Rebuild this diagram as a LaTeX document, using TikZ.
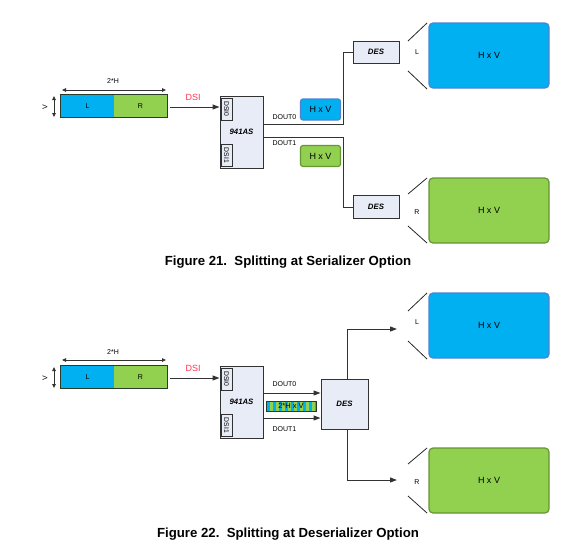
\documentclass[tikz,border=0pt]{standalone}
\usepackage{fontspec}
\setmainfont{Liberation Sans}
\usetikzlibrary{arrows.meta,calc}
\definecolor{cyanL}{RGB}{0,176,240}
\definecolor{greenR}{RGB}{146,208,80}
\definecolor{boxfill}{RGB}{231,236,247}
\definecolor{edge}{RGB}{50,50,50}
\definecolor{dsired}{RGB}{255,50,80}
\definecolor{blueedge}{RGB}{80,130,210}
\definecolor{greenedge}{RGB}{100,150,50}
\definecolor{baredge}{RGB}{40,60,40}
\begin{document}
\begin{tikzpicture}[x=1pt,y=-1pt,
  lbl/.style={font=\fontsize{7}{8}\selectfont, inner sep=0pt},
  barbox/.style={minimum width=53pt, minimum height=22pt, inner sep=0pt, font=\fontsize{7}{8}\selectfont},
  chipbox/.style={draw=edge, fill=boxfill, line width=1pt, inner sep=0pt, font=\fontsize{7.8}{8}\selectfont\bfseries\itshape},
  dsibox/.style={draw=edge, fill=boxfill, line width=1pt, inner sep=0pt, rotate=-90, minimum width=22pt, minimum height=11pt, font=\fontsize{6.8}{7}\selectfont},
  smallpic/.style={rounded corners=2.5pt, line width=1.2pt, minimum width=40pt, minimum height=21pt, inner sep=0pt, font=\fontsize{9}{10}\selectfont},
  bigpic/.style={rounded corners=4pt, line width=1.2pt, minimum width=120pt, minimum height=65pt, inner sep=0pt, font=\fontsize{9}{10}\selectfont},
  wire/.style={draw=edge, line width=1pt},
  arr/.style={wire, -{Triangle[length=7pt,width=5pt]}},
  dim/.style={draw=edge, line width=0.8pt, {Triangle[length=4pt,width=3.5pt]}-{Triangle[length=4pt,width=3.5pt]}},
  fan/.style={draw=black!85, line width=0.8pt},
  dsilbl/.style={text=dsired, inner sep=0pt, font=\fontsize{9}{10}\selectfont},
  caption/.style={inner sep=0pt, font=\fontsize{13.2}{15}\selectfont\bfseries},
  stripe/.style={draw=baredge, line width=0.8pt, minimum width=50pt, minimum height=10pt, inner sep=0pt,
    font=\fontsize{7.5}{8}\selectfont,
    path picture={\fill[greenR] (path picture bounding box.south west) rectangle (path picture bounding box.north east);
      \foreach \i in {0,...,8}{\fill[cyanL] ($(path picture bounding box.south west)+(1+\i*6,0)$) rectangle ++(3,-12);}}}
]
\useasboundingbox (0,0) rectangle (561,546);

% ================= Figure 21 =================
\node[barbox, fill=cyanL] (L1) at (87.5,106) {L};
\node[barbox, fill=greenR] (R1) at (140.5,106) {R};
\draw[baredge, line width=1pt] (L1.north west) rectangle (R1.south east);
\coordinate (h1a) at (62,90); \coordinate (h1b) at (166,90);
\draw[dim] (h1a) -- (h1b);
\node[lbl] (h1t) at (113,81) {2*H};
\coordinate (v1a) at (54,96); \coordinate (v1b) at (54,117);
\draw[dim] (v1a) -- (v1b);
\node[lbl, rotate=90] (v1t) at (45,107) {V};

\node[chipbox, minimum width=43pt, minimum height=72pt] (as1) at (241.5,132) {941AS};
\node[dsibox] (d10) at (226.5,109) {DSI0};
\node[dsibox] (d11) at (226.5,155.5) {DSI1};
\coordinate (s1) at (170,107);
\draw[arr] (s1) -- (s1 -| as1.west);
\node[dsilbl] (dsi1) at (193,97) {DSI};

\node[chipbox, minimum width=46pt, minimum height=22pt] (des1) at (376,52) {DES};
\node[chipbox, minimum width=46pt, minimum height=23pt] (des2) at (376,207) {DES};
\coordinate (o10) at (263,124); \coordinate (j10) at (343,52);
\coordinate (o11) at (263,137); \coordinate (j11) at (343,207);
\draw[wire] (o10) -| (j10) -- (des1.west);
\draw[wire] (o11) -| (j11) -- (des2.west);
\node[lbl] (dout10) at (284.5,117) {DOUT0};
\node[lbl] (dout11) at (284.5,143) {DOUT1};
\node[smallpic, fill=cyanL, draw=blueedge] (sp1) at (320.5,109.5) {H x V};
\node[smallpic, fill=greenR, draw=greenedge] (sp2) at (320.5,156) {H x V};

\node[bigpic, fill=cyanL, draw=blueedge] (big1) at (489,55.5) {H x V};
\node[bigpic, fill=greenR, draw=greenedge] (big2) at (489,210.5) {H x V};
\node[lbl] (l1) at (417,52) {L};
\node[lbl] (r1) at (417,212) {R};
\coordinate (f1a) at (408,41); \coordinate (f1b) at (427,23);
\coordinate (f1c) at (408,71); \coordinate (f1d) at (427,89);
\coordinate (f2a) at (408,194); \coordinate (f2b) at (427,178);
\coordinate (f2c) at (408,226); \coordinate (f2d) at (427,243);
\draw[fan] (f1a) -- (f1b); \draw[fan] (f1c) -- (f1d);
\draw[fan] (f2a) -- (f2b); \draw[fan] (f2c) -- (f2d);

\node[caption] (cap1) at (288,262) {Figure 21.~~Splitting at Serializer Option};

% ================= Figure 22 =================
\node[barbox, fill=cyanL] (L2) at (87.5,377) {L};
\node[barbox, fill=greenR] (R2) at (140.5,377) {R};
\draw[baredge, line width=1pt] (L2.north west) rectangle (R2.south east);
\coordinate (h2a) at (62,360); \coordinate (h2b) at (166,360);
\draw[dim] (h2a) -- (h2b);
\node[lbl] (h2t) at (113,352) {2*H};
\coordinate (v2a) at (54,367); \coordinate (v2b) at (54,388);
\draw[dim] (v2a) -- (v2b);
\node[lbl, rotate=90] (v2t) at (45,378) {V};

\node[chipbox, minimum width=43pt, minimum height=72pt] (as2) at (241.5,402) {941AS};
\node[dsibox] (d20) at (226.5,379) {DSI0};
\node[dsibox] (d21) at (226.5,425.5) {DSI1};
\coordinate (s2) at (170,378);
\draw[arr] (s2) -- (s2 -| as2.west);
\node[dsilbl] (dsi2) at (193,368) {DSI};

\node[chipbox, minimum width=47pt, minimum height=50pt] (des3) at (344.5,404) {DES};
\coordinate (o20) at (263,393); \coordinate (o21) at (263,418);
\draw[arr] (o20) -- (o20 -| des3.west);
\draw[arr] (o21) -- (o21 -| des3.west);
\node[lbl] (dout20) at (284.5,384) {DOUT0};
\node[lbl] (dout21) at (284.5,429) {DOUT1};
\node[stripe] (sb) at (291,406) {2*H x V};

\coordinate (t3) at (397,329); \coordinate (b3) at (397,480);
\draw[arr] ($(des3.north)+(2.5,0)$) |- (t3);
\draw[arr] ($(des3.south)+(2.5,0)$) |- (b3);

\node[bigpic, fill=cyanL, draw=blueedge] (big3) at (489,325.5) {H x V};
\node[bigpic, fill=greenR, draw=greenedge] (big4) at (489,480.5) {H x V};
\node[lbl] (l2) at (417,322) {L};
\node[lbl] (r2) at (417,482) {R};
\coordinate (f3a) at (408,311); \coordinate (f3b) at (427,293);
\coordinate (f3c) at (408,341); \coordinate (f3d) at (427,359);
\coordinate (f4a) at (408,464); \coordinate (f4b) at (427,448);
\coordinate (f4c) at (408,496); \coordinate (f4d) at (427,513);
\draw[fan] (f3a) -- (f3b); \draw[fan] (f3c) -- (f3d);
\draw[fan] (f4a) -- (f4b); \draw[fan] (f4c) -- (f4d);

\node[caption] (cap2) at (288,534) {Figure 22.~~Splitting at Deserializer Option};
\end{tikzpicture}
\end{document}
